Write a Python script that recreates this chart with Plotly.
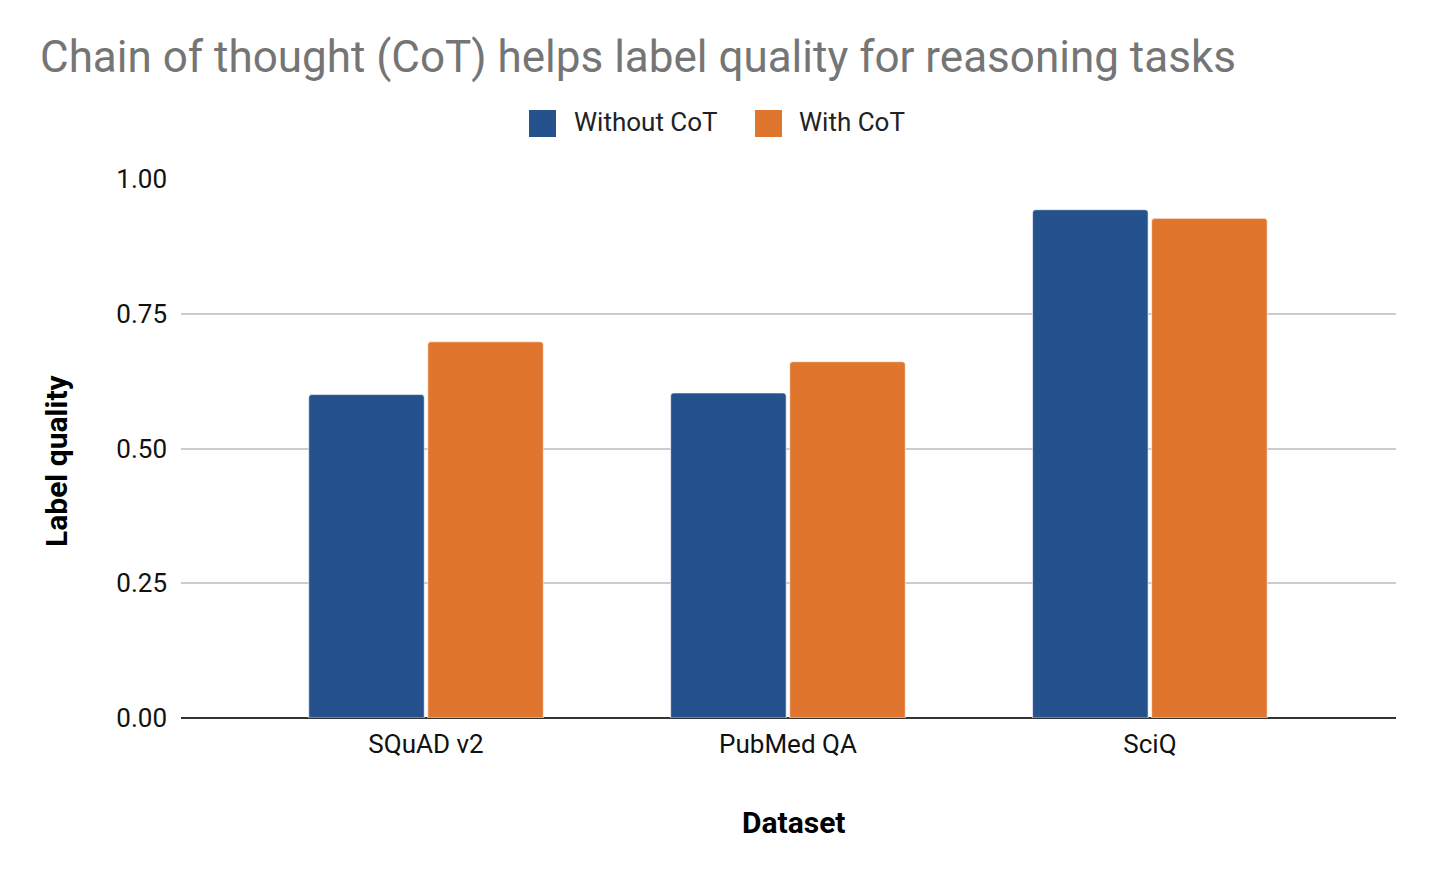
import plotly.graph_objects as go

datasets = ["SQuAD v2", "PubMed QA", "SciQ"]
without_cot = [0.600, 0.603, 0.943]
with_cot = [0.698, 0.661, 0.927]
series_names = ["Without CoT", "With CoT"]
y_ticks = [0, 0.25, 0.5, 0.75, 1.0]
y_tick_labels = ["0.00", "0.25", "0.50", "0.75", "1.00"]

BLUE = "#25528C"
ORANGE = "#E0752E"

W, H = 1432, 876
L, R, T, B = 173, 44, 171, 166
PW, PH = W - L - R, H - T - B

def px_x(px):
    return (px - L) / PW

def px_y(py):
    return (H - B - py) / PH

fig = go.Figure()
fig.add_trace(go.Bar(name=series_names[0], x=datasets, y=without_cot,
                     marker=dict(color=BLUE, line=dict(color="rgba(255,255,255,0.6)", width=1))))
fig.add_trace(go.Bar(name=series_names[1], x=datasets, y=with_cot,
                     marker=dict(color=ORANGE, line=dict(color="rgba(255,255,255,0.6)", width=1))))

# manual legend (large square swatches)
legend_items = [(series_names[0], BLUE, 521, 564), (series_names[1], ORANGE, 747, 789)]
shapes = []
annotations = []
for name, color, sx, tx in legend_items:
    shapes.append(dict(type="rect", xref="paper", yref="paper",
                       x0=px_x(sx), x1=px_x(sx + 27), y0=px_y(102), y1=px_y(129),
                       fillcolor=color, line=dict(width=0), layer="above"))
    annotations.append(dict(text=name, xref="paper", yref="paper", x=px_x(tx), y=px_y(114),
                            xanchor="left", yanchor="middle", showarrow=False,
                            font=dict(family="Roboto", size=26, color="#222222")))

# axis titles
annotations.append(dict(text="<b>Label quality</b>", xref="paper", yref="paper",
                        x=px_x(48), y=px_y(453), xanchor="center", yanchor="middle",
                        textangle=-90, showarrow=False,
                        font=dict(family="Roboto", size=30, color="#000000")))
annotations.append(dict(text="<b>Dataset</b>", xref="paper", yref="paper",
                        x=px_x(786), y=px_y(814), xanchor="center", yanchor="middle",
                        showarrow=False,
                        font=dict(family="Roboto", size=30, color="#000000")))

fig.update_layout(
    width=W, height=H,
    paper_bgcolor="white", plot_bgcolor="white",
    font=dict(family="Roboto", color="#000000", size=26),
    margin=dict(l=L, r=R, t=T, b=B),
    barmode="group", bargap=0.342, bargroupgap=0.03,
    barcornerradius=3,
    title=dict(text="Chain of thought (CoT) helps label quality for reasoning tasks",
               x=32 / W, xanchor="left", xref="container", y=1 - 49 / H, yanchor="middle", yref="container",
               font=dict(family="Roboto", size=44, color="#757575")),
    showlegend=False,
    shapes=shapes,
    annotations=annotations,
)
fig.update_xaxes(range=[-0.677, 2.68], showgrid=False, showline=False, ticks="",
                 tickfont=dict(size=26, color="#111111"), ticklabelstandoff=8)
fig.update_yaxes(range=[0, 1.0], tickvals=y_ticks, ticktext=y_tick_labels,
                 showgrid=True, gridcolor="#CCCCCC", gridwidth=2,
                 zeroline=True, zerolinecolor="#333333", zerolinewidth=2,
                 tickfont=dict(size=26, color="#111111"), ticklabelstandoff=13)

fig.write_html("out.html")
